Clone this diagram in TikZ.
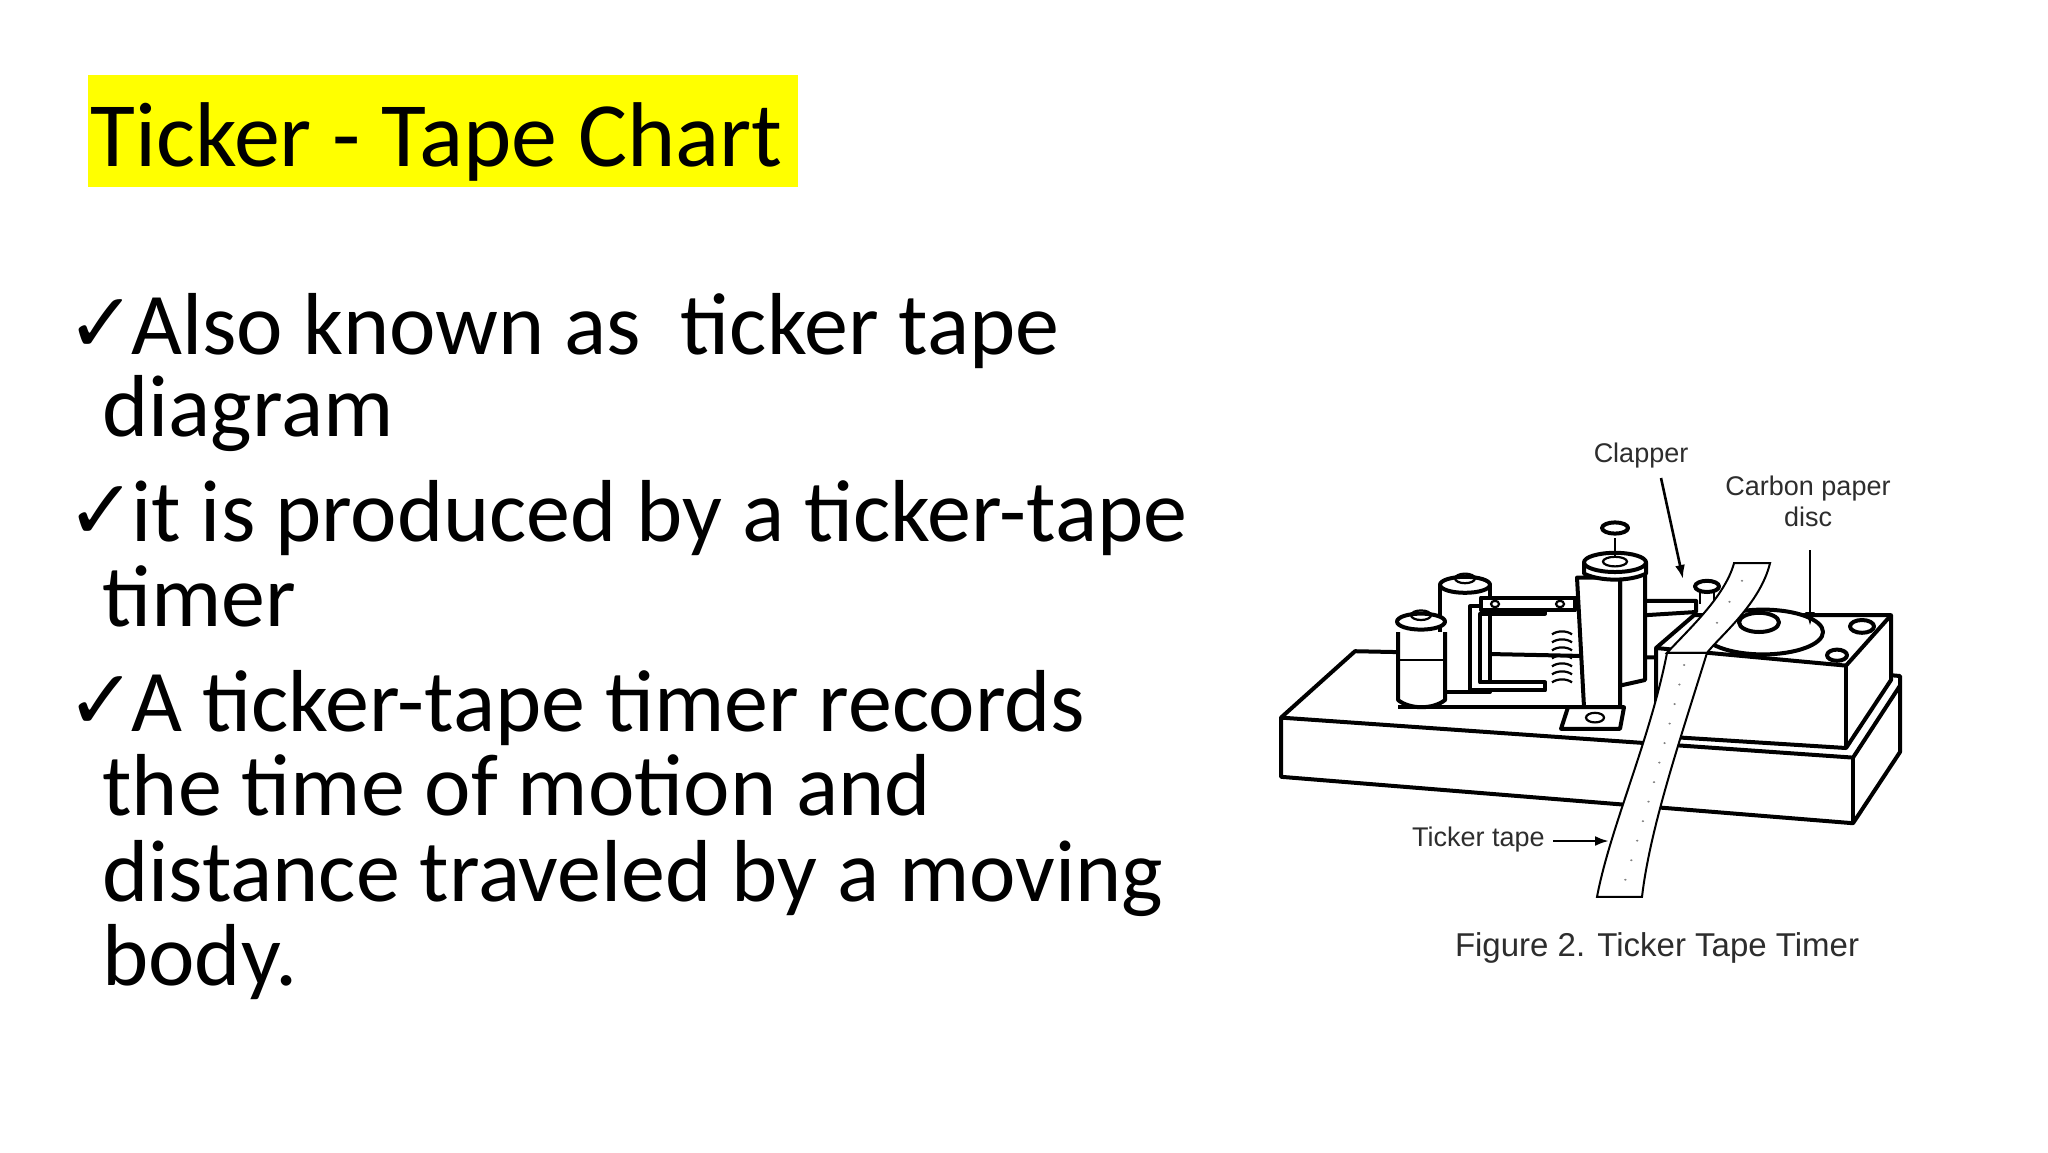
\documentclass[tikz,border=0pt]{standalone}
\usepackage{fontspec}
\setmainfont{Carlito}
\newfontfamily\symf{DejaVu Sans}
\newfontfamily\lab{Liberation Sans}
\usetikzlibrary{arrows.meta}
\definecolor{hl}{RGB}{255,255,0}
\definecolor{labc}{RGB}{45,45,45}
\tikzset{
 bodytxt/.style={anchor=base west,inner sep=0pt,font=\fontsize{44}{48}\selectfont},
 chk/.style={anchor=base west,inner sep=0pt,font=\symf\bfseries\fontsize{42}{46}\selectfont},
 figlab/.style={inner sep=0pt,text=labc,font=\lab\fontsize{13.5}{15.5}\selectfont,align=center},
 ln/.style={line width=2pt,line join=round},
 thin/.style={line width=1.1pt},
 lblarrow/.style={line width=1.3pt,-{Latex[length=7pt,width=5pt]}}
}
\begin{document}
\begin{tikzpicture}[x=0.5pt,y=-0.5pt]
\useasboundingbox[fill=white] (0,0) rectangle (2048,1152);
% title
\fill[hl] (88,75) rectangle (798,187);
\node[anchor=base west,inner sep=0pt,font=\fontsize{46}{52}\selectfont] (title) at (90,166) {Ticker - Tape Chart};
% bullets
\node[chk] (c1) at (66,352) {✓};
\node[bodytxt] (l1) at (131,354) {Also known as\ \ ticker tape};
\node[bodytxt] (l2) at (102,436) {diagram};
\node[chk] (c2) at (66,539) {✓};
\node[bodytxt] (l3) at (131,541) {it is produced by a ticker-tape};
\node[bodytxt] (l4) at (102,626) {timer};
\node[chk] (c3) at (66,729) {✓};
\node[bodytxt] (l5) at (131,731) {A ticker-tape timer records};
\node[bodytxt] (l6) at (102,815) {the time of motion and};
\node[bodytxt] (l7) at (102,901) {distance traveled by a moving};
\node[bodytxt] (l8) at (102,985) {body.};
% ---- figure ----
\begin{scope}[shift={(0,420)},yscale=0.8,shift={(0,-420)}]
% base slab
\draw[ln,fill=white] (1281,792) -- (1355,709) -- (1700,718) -- (1900,740) -- (1900,835) -- (1853,924) -- (1281,866) -- cycle;
\draw[ln] (1281,792) -- (1853,842) -- (1900,752);
\draw[ln] (1853,842) -- (1853,924);
% upper box
\draw[ln,fill=white] (1656,705) -- (1694,664) -- (1891,664) -- (1891,745) -- (1846,830) -- (1656,815) -- cycle;
\draw[ln] (1656,705) -- (1846,727) -- (1891,664);
\draw[ln] (1846,727) -- (1846,830);
% disc and holes
\draw[ln,fill=white] (1763,685) ellipse [x radius=60,y radius=28];
\draw[ln,fill=white] (1759,673) ellipse [x radius=20,y radius=12];
\draw[ln] (1862,678) ellipse [x radius=12,y radius=8];
\draw[ln] (1837,714) ellipse [x radius=10,y radius=7];
% left posts
\draw[ln,fill=white] (1440,626) rectangle (1490,760);
\draw[ln,fill=white] (1465,626) ellipse [x radius=25,y radius=10];
\draw[thin] (1465,618) ellipse [x radius=10,y radius=6];
\draw[ln,fill=white] (1398,685) -- (1398,770) .. controls (1410,782) and (1433,782) .. (1445,770) -- (1445,685);
\draw[ln,fill=white] (1421,672) ellipse [x radius=24,y radius=10];
\draw[thin] (1421,664) ellipse [x radius=10,y radius=6];
\draw[thin] (1398,720) -- (1445,720);
% coil frame
\draw[ln,fill=white] (1470,653) -- (1545,653) -- (1545,662) -- (1480,662) -- (1480,748) -- (1545,748) -- (1545,758) -- (1470,758) -- cycle;
\draw[ln,fill=white] (1481,642) -- (1575,642) -- (1575,658) -- (1481,658) -- cycle;
\draw[thin] (1495,650) circle (4);
\draw[thin] (1560,650) circle (4);
% spring
\foreach \yy in {688,698,...,752} {\draw[thin] (1552,\yy) .. controls (1557,\yy-5) and (1567,\yy-5) .. (1572,\yy);}
\draw[ln] (1398,779) -- (1575,779);
% pillar
\draw[ln,fill=white] (1620,612) -- (1645,605) -- (1645,745) -- (1620,752) -- cycle;
\draw[ln,fill=white] (1577,617) -- (1620,617) -- (1620,779) -- (1584,779) -- cycle;
\draw[ln,fill=white] (1568,779) -- (1624,779) -- (1620,806) -- (1561,806) -- cycle;
\draw[thin] (1595,792) ellipse [x radius=9,y radius=6];
% top knob
\draw[ln,fill=white] (1584,598) -- (1584,612) .. controls (1600,622) and (1630,622) .. (1646,612) -- (1646,598);
\draw[ln,fill=white] (1615,598) ellipse [x radius=31,y radius=12];
\draw[thin] (1615,597) ellipse [x radius=12,y radius=6];
\draw[thin] (1615,590) -- (1615,568);
\draw[ln,fill=white] (1615,555) ellipse [x radius=13,y radius=7];
% arm
\draw[ln,fill=white] (1645,646) -- (1696,646) -- (1696,660) -- (1645,664) -- cycle;
\draw[ln,fill=white] (1707,628) ellipse [x radius=12,y radius=7];
\draw[thin] (1700,634) -- (1700,650) (1714,634) -- (1714,648);
% tape
\draw[line width=1pt,fill=white] (1734,599) -- (1770,599) .. controls (1760,650) and (1720,690) .. (1707,711) -- (1667,711) .. controls (1690,680) and (1725,640) .. cycle;
\draw[line width=1pt,fill=white] (1667,711) -- (1707,711) .. controls (1680,820) and (1650,930) .. (1642,1016) -- (1597,1016) .. controls (1610,930) and (1650,820) .. cycle;
\foreach \t in {0.05,0.13,...,1} {\fill[gray] ({1687 - 67*\t + 10*\t*(1-\t)},{711+305*\t}) circle (1.3);}
\foreach \t in {0.2,0.45,0.7} {\fill[gray] ({1752-50*\t},{600+105*\t}) circle (1.3);}
\end{scope}
% labels
\node[figlab] (clap) at (1641,456) {Clapper};
\node[figlab] (carb) at (1808,501) {Carbon paper\\disc};
\node[figlab,anchor=east] (tick) at (1545,840) {Ticker tape};
\node[inner sep=0pt,text=labc,font=\lab\fontsize{16.5}{18}\selectfont] (cap) at (1657,948) {Figure 2. Ticker Tape Timer};
\coordinate (clapT) at (1683,579);
\coordinate (carbT) at (1810,626);
\coordinate (tickT) at (1609,841);
\draw[lblarrow] (1661,478) -- (clapT);
\draw[lblarrow] (1810,550) -- (carbT);
\draw[lblarrow] (tick.east)++(8,1) -- (tickT);
\end{tikzpicture}
\end{document}
